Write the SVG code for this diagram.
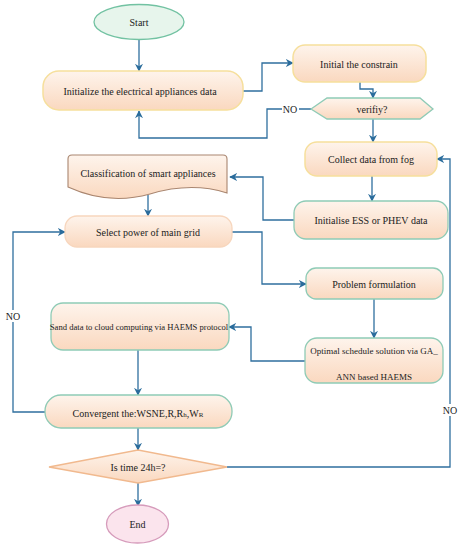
<svg xmlns="http://www.w3.org/2000/svg" width="461" height="550" viewBox="0 0 461 550">
<defs>
<linearGradient id="peach" x1="0" y1="0" x2="0" y2="1">
<stop offset="0" stop-color="#fef4ec"/>
<stop offset="1" stop-color="#fad8bf"/>
</linearGradient>
<marker id="arr" viewBox="0 0 10 10" refX="9" refY="5" markerWidth="8" markerHeight="8" markerUnits="userSpaceOnUse" orient="auto">
<path d="M0,0 L10,5 L0,10 L3,5 Z" fill="#2a6c9c"/>
</marker>
<style>
text{font-family:'Liberation Serif','Times New Roman','DejaVu Serif',serif;font-size:10px;fill:#222;text-anchor:middle;dominant-baseline:central}
.c{fill:none;stroke:#2f6f9e;stroke-width:1.3;marker-end:url(#arr)}
.y{fill:url(#peach);stroke:#f6df9c;stroke-width:1.5}
.t{fill:url(#peach);stroke:#8fcbb6;stroke-width:1.3}
.p{fill:url(#peach);stroke:#f7d6bd;stroke-width:1.3}
.lbl{fill:#fff}
</style>
</defs>
<rect width="461" height="550" fill="#fff"/>
<g font-family="Liberation Serif, Times New Roman, serif">
<g id="connectors">
<path class="c" d="M139,39 L139,71"/>
<path class="c" d="M243,91 L262,91 L262,63 L293,63"/>
<path class="c" d="M360,82 L360,89 L373,89 L373,98"/>
<path class="c" d="M311,109 L267,109 L267,138 L139,138 L139,111"/>
<path class="c" d="M373,119 L373,142"/>
<path class="c" d="M372,176 L372,201"/>
<path class="c" d="M294,220 L263,220 L263,177 L230,177"/>
<path class="c" d="M148,195 L148,216"/>
<path class="c" d="M232,232 L262,232 L262,284 L306,284"/>
<path class="c" d="M374,299 L374,338"/>
<path class="c" d="M305,361 L251,361 L251,327 L229,327"/>
<path class="c" d="M138,350 L138,395"/>
<path class="c" d="M45,412 L13,412 L13,232 L65,232"/>
<path class="c" d="M138,428 L138,450"/>
<path class="c" d="M138,483 L138,506"/>
<path class="c" d="M227,467 L450,467 L450,159 L437,159"/>
<rect class="lbl" x="282" y="103" width="17" height="12"/>
<text x="290" y="109">NO</text>
<rect class="lbl" x="5" y="310" width="17" height="12"/>
<text x="13" y="316">NO</text>
<rect class="lbl" x="442" y="404" width="17" height="12"/>
<text x="450" y="410">NO</text>
</g>
<g id="start">
<ellipse cx="139" cy="22" rx="45" ry="17.5" fill="#e7f5ec" stroke="#72c2a2" stroke-width="1.3"/>
<text x="139" y="22">Start</text>
</g>
<g id="init">
<rect class="y" x="43" y="71" width="200" height="39" rx="16"/>
<text x="140" y="91">Initialize the electrical appliances data</text>
</g>
<g id="constrain">
<rect class="y" x="293" y="45" width="133" height="37" rx="12"/>
<text x="359" y="64">Initial the constrain</text>
</g>
<g id="verify">
<polygon class="t" points="311,109 327,98 420,98 433,109 420,119 327,119"/>
<text x="372" y="109">verifiy?</text>
</g>
<g id="collect">
<rect class="y" x="305" y="142" width="132" height="34" rx="12"/>
<text x="371" y="159">Collect data from fog</text>
</g>
<g id="ess">
<rect class="t" x="294" y="201" width="154" height="38" rx="12"/>
<text x="371" y="220">Initialise ESS or PHEV data</text>
</g>
<g id="classification">
<path d="M68,159 Q68,155 72,155 L223,155 Q227,155 227,159 L227,193 C205,186 180,185 150,194 C118,203 92,198 68,187 Z" fill="url(#peach)" stroke="#a98670" stroke-width="1.1"/>
<text x="148" y="173">Classification of smart appliances</text>
</g>
<g id="select">
<rect class="p" x="65" y="216" width="167" height="31" rx="12"/>
<text x="148" y="232">Select power of main grid</text>
</g>
<g id="problem">
<rect class="t" x="306" y="268" width="137" height="31" rx="10"/>
<text x="374" y="284">Problem formulation</text>
</g>
<g id="optimal">
<rect class="t" x="305" y="338" width="138" height="45" rx="12"/>
<text x="374" y="351" style="font-size:9px">Optimal schedule solution via GA_</text>
<text x="374" y="377" style="font-size:9px">ANN based HAEMS</text>
</g>
<g id="sand">
<rect class="t" x="51" y="303" width="178" height="47" rx="12"/>
<text x="139" y="327" style="font-size:8.6px">Sand data to cloud computing via HAEMS protocol</text>
</g>
<g id="convergent">
<rect class="t" x="45" y="395" width="187" height="33" rx="16"/>
<text x="138" y="413">Convergent the:WSNE,R,R<tspan font-size="7" dy="2">h</tspan><tspan dy="-2">,W</tspan><tspan font-size="7" dy="2">R</tspan></text>
</g>
<g id="istime">
<polygon points="49,467 138,450 227,467 138,483" fill="url(#peach)" stroke="#f1b98e" stroke-width="1.3"/>
<text x="138" y="467">Is time 24h=?</text>
</g>
<g id="end">
<ellipse cx="137.5" cy="524" rx="31" ry="19" fill="#fbe4ed" stroke="#d69bbb" stroke-width="1.3"/>
<text x="137.5" y="524">End</text>
</g>
</g>
</svg>
